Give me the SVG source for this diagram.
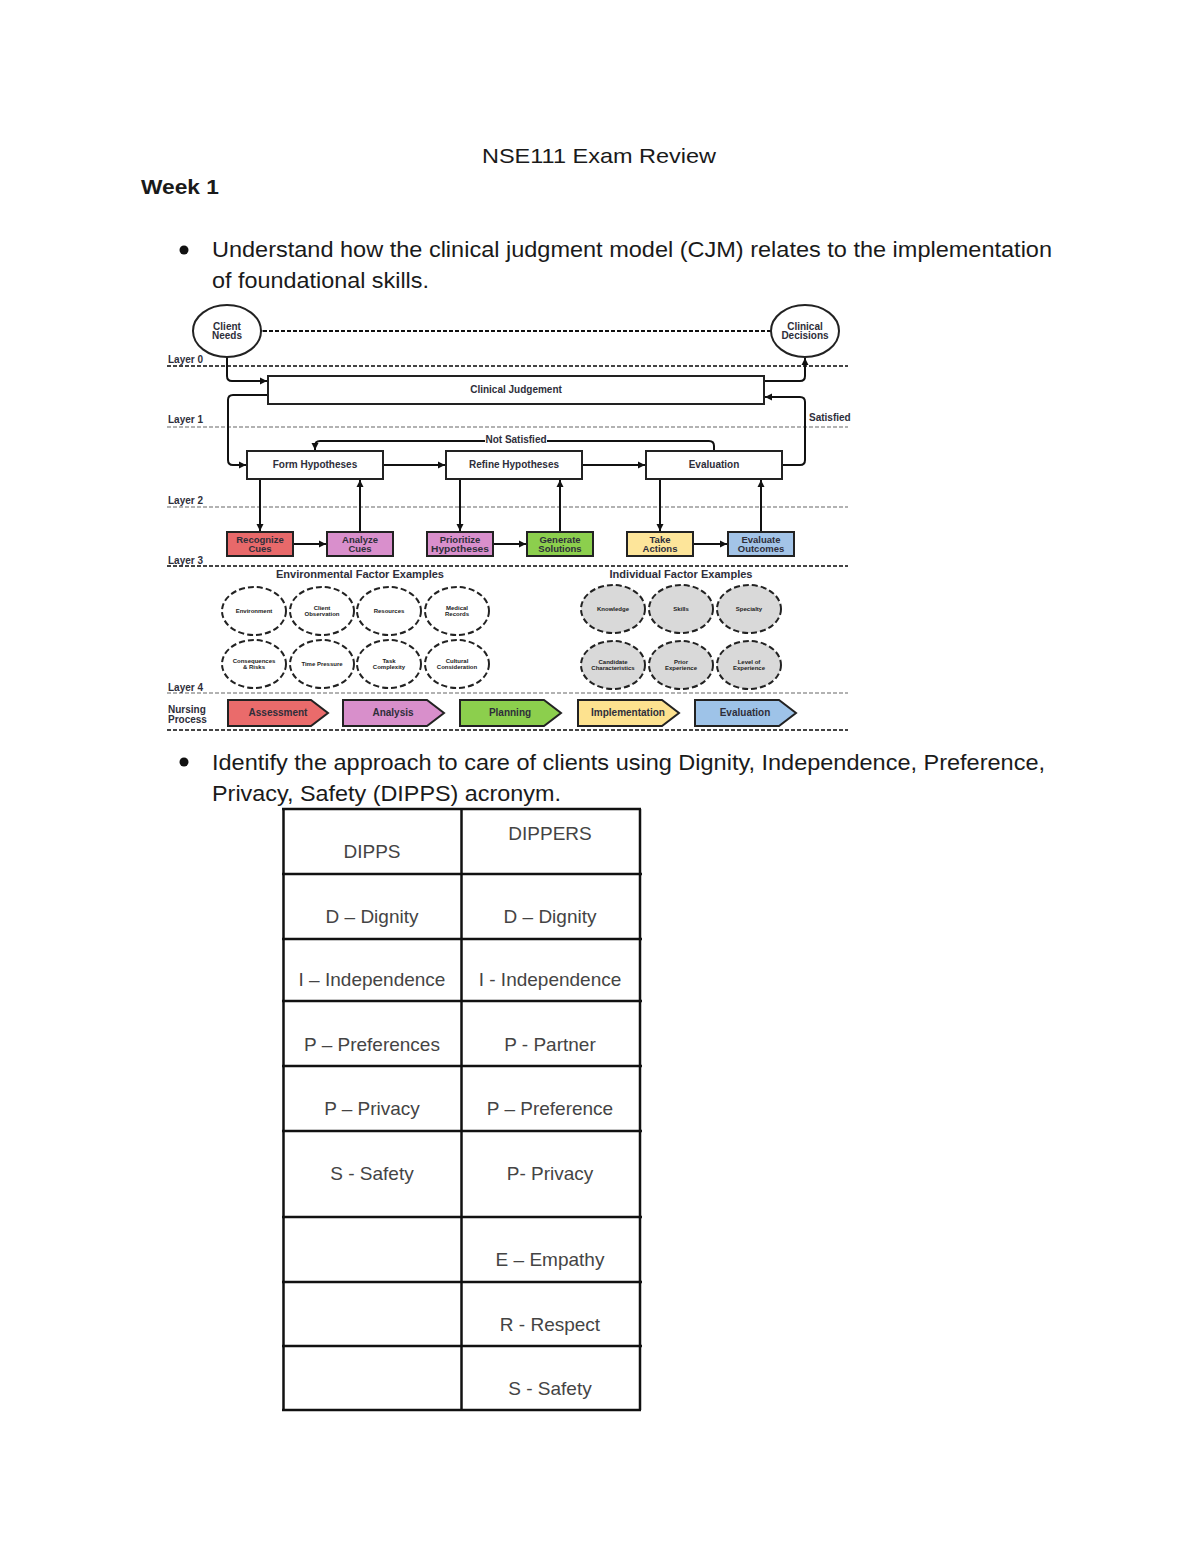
<svg xmlns="http://www.w3.org/2000/svg" width="1200" height="1553" viewBox="0 0 1200 1553">
<style>
.doc{font-family:"Liberation Sans",Arial,sans-serif;fill:#1a1a1a}
.tb{font-family:"Liberation Sans",Arial,sans-serif;font-size:19px;fill:#444;text-anchor:middle}
.lbl{font-family:"Liberation Sans",Arial,sans-serif;font-weight:bold;font-size:10px;fill:#2e2e3a;text-anchor:middle}
.sm{font-size:9.5px}
.lay{font-family:"Liberation Sans",Arial,sans-serif;font-weight:bold;font-size:10px;fill:#2e2e3a}
.tiny{font-family:"Liberation Sans",Arial,sans-serif;font-weight:bold;font-size:6px;fill:#222;text-anchor:middle}
.box{fill:#fff;stroke:#222;stroke-width:2}
.cbox{stroke:#222;stroke-width:2}
.conn{fill:none;stroke:#111;stroke-width:2}
.dl{stroke:#444;stroke-width:2;stroke-dasharray:4 2}
.gl{stroke:#999;stroke-width:1.5;stroke-dasharray:4 2}
.env{fill:#fff;stroke:#222;stroke-width:2;stroke-dasharray:6 3}
.ind{fill:#d9d9d9;stroke:#222;stroke-width:2;stroke-dasharray:6 3}
.tl{stroke:#111;stroke-width:2.5}
</style>
<defs>
<marker id="ah" markerUnits="userSpaceOnUse" markerWidth="8" markerHeight="8" refX="7" refY="4" orient="auto">
<path d="M0,0.5 L7,4 L0,7.5 Z" fill="#111"/>
</marker>
<marker id="oh" markerUnits="userSpaceOnUse" markerWidth="9" markerHeight="9" refX="1" refY="4.5" orient="auto">
<path d="M1,4.5 L7,1.5 L7,7.5 Z" fill="#fff" stroke="#111" stroke-width="1.2"/>
</marker>
</defs>
<rect width="1200" height="1553" fill="#fff"/>

<!-- document text -->
<text class="doc" x="482" y="163" font-size="21" textLength="234" lengthAdjust="spacingAndGlyphs">NSE111 Exam Review</text>
<text class="doc" x="141" y="194" font-size="21" font-weight="bold" textLength="78" lengthAdjust="spacingAndGlyphs">Week 1</text>
<circle cx="184" cy="250" r="4.5" fill="#111"/>
<text class="doc" x="212" y="257" font-size="22" textLength="840" lengthAdjust="spacingAndGlyphs">Understand how the clinical judgment model (CJM) relates to the implementation</text>
<text class="doc" x="212" y="288" font-size="22" textLength="217" lengthAdjust="spacingAndGlyphs">of foundational skills.</text>
<circle cx="184" cy="762" r="4.5" fill="#111"/>
<text class="doc" x="212" y="770" font-size="22" textLength="833" lengthAdjust="spacingAndGlyphs">Identify the approach to care of clients using Dignity, Independence, Preference,</text>
<text class="doc" x="212" y="801" font-size="22" textLength="349" lengthAdjust="spacingAndGlyphs">Privacy, Safety (DIPPS) acronym.</text>

<!-- layer lines -->
<g id="layers">
<line class="dl" x1="167" y1="366" x2="848" y2="366"/>
<line class="gl" x1="167" y1="427" x2="848" y2="427"/>
<line class="gl" x1="167" y1="507" x2="848" y2="507"/>
<line class="dl" x1="167" y1="566" x2="848" y2="566"/>
<line class="gl" x1="167" y1="693" x2="848" y2="693"/>
<line class="dl" x1="167" y1="730" x2="848" y2="730"/>
<text class="lay" x="168" y="363">Layer 0</text>
<text class="lay" x="168" y="423">Layer 1</text>
<text class="lay" x="168" y="504">Layer 2</text>
<text class="lay" x="168" y="564">Layer 3</text>
<text class="lay" x="168" y="691">Layer 4</text>
<text class="lay" x="168" y="713">Nursing</text>
<text class="lay" x="168" y="723">Process</text>
<text class="lay" x="809" y="421">Satisfied</text>
</g>

<!-- connectors -->
<g id="connectors">
<path class="conn" d="M771,331 H262" stroke-width="1.5" stroke-dasharray="4 2" marker-end="url(#oh)"/>
<path class="conn" d="M227,357 V376 Q227,381 232,381 H267" marker-end="url(#ah)"/>
<path class="conn" d="M268,395 H233 Q228,395 228,400 V460 Q228,465 233,465 H246" marker-end="url(#ah)"/>
<path class="conn" d="M764,381 H800 Q805,381 805,376 V358" marker-end="url(#ah)"/>
<path class="conn" d="M782,465 H800 Q805,465 805,460 V402 Q805,397 800,397 H765" marker-end="url(#ah)"/>
<path class="conn" d="M714,451 V446 Q714,441 709,441 H320 Q315,441 315,446 V450" marker-end="url(#ah)"/>
<path class="conn" d="M383,465 H445" marker-end="url(#ah)"/>
<path class="conn" d="M582,465 H645" marker-end="url(#ah)"/>
<path class="conn" d="M260,479 V531" marker-end="url(#ah)"/>
<path class="conn" d="M360,532 V480" marker-end="url(#ah)"/>
<path class="conn" d="M293,544 H326" stroke-width="1.5" marker-end="url(#ah)"/>
<path class="conn" d="M460,479 V531" marker-end="url(#ah)"/>
<path class="conn" d="M560,532 V480" marker-end="url(#ah)"/>
<path class="conn" d="M493,544 H526" stroke-width="1.5" marker-end="url(#ah)"/>
<path class="conn" d="M660,479 V531" marker-end="url(#ah)"/>
<path class="conn" d="M761,532 V480" marker-end="url(#ah)"/>
<path class="conn" d="M693,544 H727" stroke-width="1.5" marker-end="url(#ah)"/>
<rect x="485" y="435" width="62" height="9" fill="#fff"/>
<text class="lbl" x="516" y="443">Not Satisfied</text>
</g>

<!-- nodes -->
<g id="client-needs">
<ellipse cx="227" cy="331" rx="34" ry="26" class="box"/>
<text class="lbl" x="227" y="330">Client</text>
<text class="lbl" x="227" y="339">Needs</text>
</g>
<g id="clinical-decisions">
<ellipse cx="805" cy="331" rx="34" ry="26" class="box"/>
<text class="lbl" x="805" y="330">Clinical</text>
<text class="lbl" x="805" y="339">Decisions</text>
</g>
<g id="clinical-judgement">
<rect x="268" y="376" width="496" height="28" class="box"/>
<text class="lbl" x="516" y="393">Clinical Judgement</text>
</g>
<g id="form-hypotheses">
<rect x="247" y="451" width="136" height="28" class="box"/>
<text class="lbl" x="315" y="468">Form Hypotheses</text>
</g>
<g id="refine-hypotheses">
<rect x="446" y="451" width="136" height="28" class="box"/>
<text class="lbl" x="514" y="468">Refine Hypotheses</text>
</g>
<g id="evaluation">
<rect x="646" y="451" width="136" height="28" class="box"/>
<text class="lbl" x="714" y="468">Evaluation</text>
</g>
<g id="recognize-cues">
<rect x="227" y="532" width="66" height="24" class="cbox" fill="#e8696a"/>
<text class="lbl sm" x="260" y="543">Recognize</text>
<text class="lbl sm" x="260" y="552">Cues</text>
</g>
<g id="analyze-cues">
<rect x="327" y="532" width="66" height="24" class="cbox" fill="#d98fcc"/>
<text class="lbl sm" x="360" y="543">Analyze</text>
<text class="lbl sm" x="360" y="552">Cues</text>
</g>
<g id="prioritize-hypotheses">
<rect x="427" y="532" width="66" height="24" class="cbox" fill="#d98fcc"/>
<text class="lbl sm" x="460" y="543">Prioritize</text>
<text class="lbl sm" x="460" y="552" textLength="58" lengthAdjust="spacingAndGlyphs">Hypotheses</text>
</g>
<g id="generate-solutions">
<rect x="527" y="532" width="66" height="24" class="cbox" fill="#8ccf4d"/>
<text class="lbl sm" x="560" y="543">Generate</text>
<text class="lbl sm" x="560" y="552">Solutions</text>
</g>
<g id="take-actions">
<rect x="627" y="532" width="66" height="24" class="cbox" fill="#fde59a"/>
<text class="lbl sm" x="660" y="543">Take</text>
<text class="lbl sm" x="660" y="552">Actions</text>
</g>
<g id="evaluate-outcomes">
<rect x="728" y="532" width="66" height="24" class="cbox" fill="#a3c4e8"/>
<text class="lbl sm" x="761" y="543">Evaluate</text>
<text class="lbl sm" x="761" y="552">Outcomes</text>
</g>

<text class="lbl" x="360" y="578" font-size="11" textLength="168" lengthAdjust="spacingAndGlyphs">Environmental Factor Examples</text>
<text class="lbl" x="681" y="578" font-size="11" textLength="143" lengthAdjust="spacingAndGlyphs">Individual Factor Examples</text>

<g id="env-environment"><ellipse cx="254" cy="611" rx="32" ry="24" class="env"/><text class="tiny" x="254" y="613">Environment</text></g>
<g id="env-client-observation"><ellipse cx="322" cy="611" rx="32" ry="24" class="env"/><text class="tiny" x="322" y="610">Client</text><text class="tiny" x="322" y="616">Observation</text></g>
<g id="env-resources"><ellipse cx="389" cy="611" rx="32" ry="24" class="env"/><text class="tiny" x="389" y="613">Resources</text></g>
<g id="env-medical-records"><ellipse cx="457" cy="611" rx="32" ry="24" class="env"/><text class="tiny" x="457" y="610">Medical</text><text class="tiny" x="457" y="616">Records</text></g>
<g id="env-consequences"><ellipse cx="254" cy="664" rx="32" ry="24" class="env"/><text class="tiny" x="254" y="663">Consequences</text><text class="tiny" x="254" y="669">&amp; Risks</text></g>
<g id="env-time-pressure"><ellipse cx="322" cy="664" rx="32" ry="24" class="env"/><text class="tiny" x="322" y="666">Time Pressure</text></g>
<g id="env-task-complexity"><ellipse cx="389" cy="664" rx="32" ry="24" class="env"/><text class="tiny" x="389" y="663">Task</text><text class="tiny" x="389" y="669">Complexity</text></g>
<g id="env-cultural"><ellipse cx="457" cy="664" rx="32" ry="24" class="env"/><text class="tiny" x="457" y="663">Cultural</text><text class="tiny" x="457" y="669">Consideration</text></g>

<g id="ind-knowledge"><ellipse cx="613" cy="609" rx="32" ry="24" class="ind"/><text class="tiny" x="613" y="611">Knowledge</text></g>
<g id="ind-skills"><ellipse cx="681" cy="609" rx="32" ry="24" class="ind"/><text class="tiny" x="681" y="611">Skills</text></g>
<g id="ind-specialty"><ellipse cx="749" cy="609" rx="32" ry="24" class="ind"/><text class="tiny" x="749" y="611">Specialty</text></g>
<g id="ind-candidate"><ellipse cx="613" cy="665" rx="32" ry="24" class="ind"/><text class="tiny" x="613" y="664">Candidate</text><text class="tiny" x="613" y="670">Characteristics</text></g>
<g id="ind-prior"><ellipse cx="681" cy="665" rx="32" ry="24" class="ind"/><text class="tiny" x="681" y="664">Prior</text><text class="tiny" x="681" y="670">Experience</text></g>
<g id="ind-level"><ellipse cx="749" cy="665" rx="32" ry="24" class="ind"/><text class="tiny" x="749" y="664">Level of</text><text class="tiny" x="749" y="670">Experience</text></g>

<g id="np-assessment"><polygon points="228,700 311,700 328,713 311,726 228,726" class="cbox" fill="#ea6b6b"/><text class="lbl" x="278" y="716">Assessment</text></g>
<g id="np-analysis"><polygon points="343,700 427,700 444,713 427,726 343,726" class="cbox" fill="#d88fcb"/><text class="lbl" x="393" y="716">Analysis</text></g>
<g id="np-planning"><polygon points="460,700 544,700 561,713 544,726 460,726" class="cbox" fill="#8ccf4d"/><text class="lbl" x="510" y="716">Planning</text></g>
<g id="np-implementation"><polygon points="578,700 662,700 679,713 662,726 578,726" class="cbox" fill="#fde28f"/><text class="lbl" x="628" y="716">Implementation</text></g>
<g id="np-evaluation"><polygon points="695,700 779,700 796,713 779,726 695,726" class="cbox" fill="#9ec3e8"/><text class="lbl" x="745" y="716">Evaluation</text></g>

<!-- table -->
<g id="table">
<line class="tl" x1="283.5" y1="809" x2="283.5" y2="1410"/>
<line class="tl" x1="461.5" y1="809" x2="461.5" y2="1410"/>
<line class="tl" x1="640" y1="809" x2="640" y2="1410"/>
<line class="tl" x1="282" y1="809" x2="641" y2="809"/>
<line class="tl" x1="282" y1="874" x2="642" y2="874"/>
<line class="tl" x1="282" y1="939" x2="642" y2="939"/>
<line class="tl" x1="282" y1="1001" x2="642" y2="1001"/>
<line class="tl" x1="282" y1="1066" x2="642" y2="1066"/>
<line class="tl" x1="282" y1="1131" x2="642" y2="1131"/>
<line class="tl" x1="282" y1="1217" x2="642" y2="1217"/>
<line class="tl" x1="282" y1="1282" x2="642" y2="1282"/>
<line class="tl" x1="282" y1="1346" x2="642" y2="1346"/>
<line class="tl" x1="282" y1="1410" x2="641" y2="1410"/>
<text class="tb" x="372" y="858">DIPPS</text>
<text class="tb" x="550" y="840">DIPPERS</text>
<text class="tb" x="372" y="923">D – Dignity</text>
<text class="tb" x="550" y="923">D – Dignity</text>
<text class="tb" x="372" y="986">I – Independence</text>
<text class="tb" x="550" y="986">I - Independence</text>
<text class="tb" x="372" y="1051">P – Preferences</text>
<text class="tb" x="550" y="1051">P - Partner</text>
<text class="tb" x="372" y="1115">P – Privacy</text>
<text class="tb" x="550" y="1115">P – Preference</text>
<text class="tb" x="372" y="1180">S - Safety</text>
<text class="tb" x="550" y="1180">P- Privacy</text>
<text class="tb" x="550" y="1266">E – Empathy</text>
<text class="tb" x="550" y="1331">R - Respect</text>
<text class="tb" x="550" y="1395">S - Safety</text>
</g>
</svg>
